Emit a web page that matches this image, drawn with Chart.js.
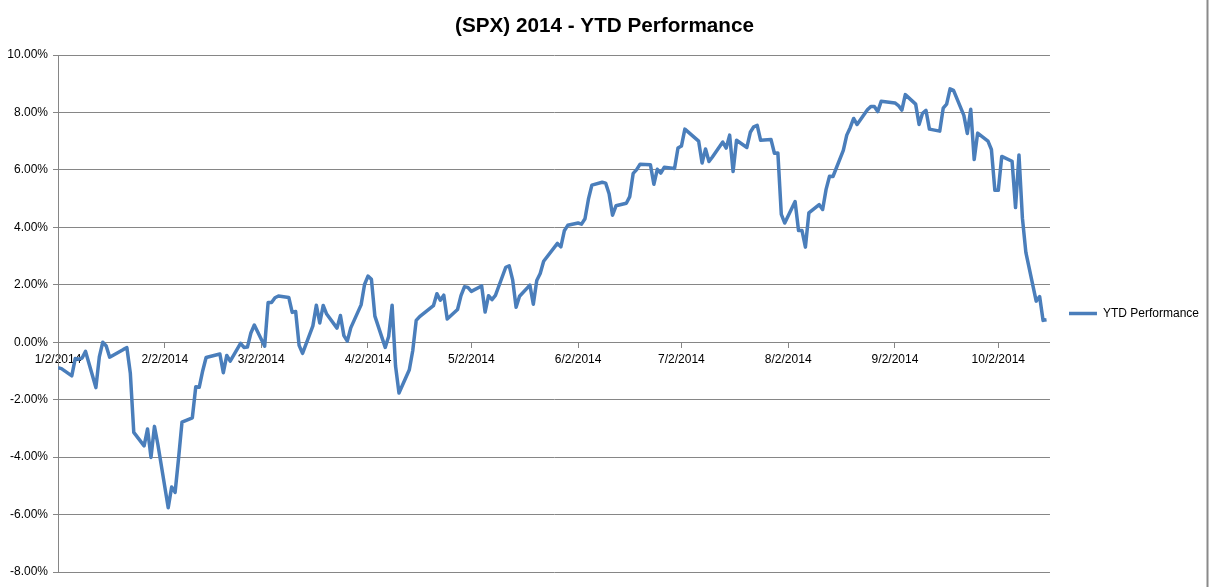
<!DOCTYPE html>
<html>
<head>
<meta charset="utf-8">
<title>(SPX) 2014 - YTD Performance</title>
<script src="https://cdn.jsdelivr.net/npm/chart.js@4.4.1/dist/chart.umd.min.js"></script>
<style>
  html, body { margin: 0; padding: 0; background: #fff; }
  #wrap { position: relative; width: 1210px; height: 587px; }
</style>
</head>
<body>
<div id="wrap"><canvas id="spxChart"></canvas></div>
<script>
// trading days (2014) and YTD % change of the S&P 500
const dates = [
  "1/2", "1/3", "1/6", "1/7", "1/8", "1/9", "1/10", "1/13", "1/14", "1/15", "1/16", "1/17", "1/21", "1/22", "1/23", "1/24", "1/27", "1/28", "1/29", "1/30", "1/31",
  "2/3", "2/4", "2/5", "2/6", "2/7", "2/10", "2/11", "2/12", "2/13", "2/14", "2/18", "2/19", "2/20", "2/21", "2/24", "2/25", "2/26", "2/27", "2/28",
  "3/3", "3/4", "3/5", "3/6", "3/7", "3/10", "3/11", "3/12", "3/13", "3/14", "3/17", "3/18", "3/19", "3/20", "3/21", "3/24", "3/25", "3/26", "3/27", "3/28", "3/31",
  "4/1", "4/2", "4/3", "4/4", "4/7", "4/8", "4/9", "4/10", "4/11", "4/14", "4/15", "4/16", "4/17", "4/21", "4/22", "4/23", "4/24", "4/25", "4/28", "4/29", "4/30",
  "5/1", "5/2", "5/5", "5/6", "5/7", "5/8", "5/9", "5/12", "5/13", "5/14", "5/15", "5/16", "5/19", "5/20", "5/21", "5/22", "5/23", "5/27", "5/28", "5/29", "5/30",
  "6/2", "6/3", "6/4", "6/5", "6/6", "6/9", "6/10", "6/11", "6/12", "6/13", "6/16", "6/17", "6/18", "6/19", "6/20", "6/23", "6/24", "6/25", "6/26", "6/27", "6/30",
  "7/1", "7/2", "7/3", "7/7", "7/8", "7/9", "7/10", "7/11", "7/14", "7/15", "7/16", "7/17", "7/18", "7/21", "7/22", "7/23", "7/24", "7/25", "7/28", "7/29", "7/30", "7/31",
  "8/1", "8/4", "8/5", "8/6", "8/7", "8/8", "8/11", "8/12", "8/13", "8/14", "8/15", "8/18", "8/19", "8/20", "8/21", "8/22", "8/25", "8/26", "8/27", "8/28", "8/29",
  "9/2", "9/3", "9/4", "9/5", "9/8", "9/9", "9/10", "9/11", "9/12", "9/15", "9/16", "9/17", "9/18", "9/19", "9/22", "9/23", "9/24", "9/25", "9/26", "9/29", "9/30",
  "10/1", "10/2", "10/3", "10/6", "10/7", "10/8", "10/9", "10/10", "10/13", "10/14", "10/15", "10/16",
];

const ytd = [
  -0.89, -0.92, -1.17, -0.57, -0.59, -0.55, -0.32, -1.58, -0.51, 0.0, -0.13, -0.52, -0.25, -0.19, -1.08, -3.14, -3.61, -3.02, -4.01, -2.93, -3.56,
  -5.76, -5.04, -5.23, -4.05, -2.78, -2.63, -1.55, -1.57, -1.0, -0.53, -0.41, -1.06, -0.46, -0.66, -0.04, -0.18, -0.17, 0.32, 0.6,
  -0.14, 1.38, 1.38, 1.55, 1.61, 1.56, 1.04, 1.07, -0.11, -0.39, 0.57, 1.29, 0.67, 1.28, 0.98, 0.49, 0.93, 0.23, 0.04, 0.5, 1.3,
  2.01, 2.3, 2.19, 0.91, -0.18, 0.2, 1.29, -0.83, -1.77, -0.96, -0.29, 0.76, 0.89, 1.27, 1.69, 1.46, 1.64, 0.81, 1.14, 1.62, 1.93,
  1.91, 1.77, 1.96, 1.05, 1.62, 1.48, 1.63, 2.61, 2.66, 2.17, 1.22, 1.6, 1.99, 1.32, 2.15, 2.39, 2.82, 3.44, 3.32, 3.88, 4.07,
  4.15, 4.11, 4.3, 4.98, 5.47, 5.57, 5.54, 5.17, 4.42, 4.75, 4.84, 5.07, 5.88, 6.01, 6.2, 6.18, 5.5, 6.02, 5.89, 6.09, 6.05,
  6.76, 6.83, 7.42, 7.0, 6.24, 6.73, 6.29, 6.45, 6.97, 6.76, 7.21, 5.94, 7.03, 6.78, 7.31, 7.5, 7.55, 7.03, 7.06, 6.58, 6.59, 4.45,
  4.15, 4.9, 3.89, 3.89, 3.31, 4.5, 4.79, 4.62, 5.32, 5.78, 5.77, 6.68, 7.21, 7.47, 7.79, 7.58, 8.09, 8.21, 8.21, 8.03, 8.39,
  8.33, 8.24, 8.08, 8.62, 8.29, 7.58, 7.97, 8.07, 7.42, 7.35, 8.15, 8.29, 8.82, 8.77, 7.9, 7.27, 8.11, 6.36, 7.28, 7.0, 6.71,
  5.29, 5.29, 6.47, 6.3, 4.69, 6.52, 4.32, 3.13, 1.43, 1.59, 0.76, 0.78,
];

const tickLabels = ["1/2/2014", "2/2/2014", "3/2/2014", "4/2/2014", "5/2/2014", "6/2/2014", "7/2/2014", "8/2/2014", "9/2/2014", "10/2/2014"];
const axisEnd = "10/17/2014";

// days since 1/2/2014
function dayOf(str) {
  const p = str.split("/");
  const t = Date.UTC(2014, +p[0] - 1, +p[1]);
  return Math.round((t - Date.UTC(2014, 0, 2)) / 86400000);
}

const points = dates.map((d, i) => ({ x: dayOf(d), y: ytd[i] }));

// outer border of the chart object (cut off at the right)
const sideBorder = {
  id: "sideBorder",
  afterDraw(chart) {
    const { ctx, width, height } = chart;
    ctx.save();
    ctx.strokeStyle = "#8a8a8a";
    ctx.lineWidth = 2;
    ctx.beginPath();
    ctx.moveTo(width - 2.5, 0);
    ctx.lineTo(width - 2.5, height);
    ctx.stroke();
    ctx.restore();
  },
};

Chart.defaults.font.family = "'Liberation Sans', Arial, sans-serif";
Chart.defaults.font.size = 12;
Chart.defaults.color = "#000";

new Chart(document.getElementById("spxChart"), {
  type: "line",
  data: {
    datasets: [
      {
        label: "YTD Performance",
        data: points,
        borderColor: "#4a7ebb",
        backgroundColor: "#4a7ebb",
        borderWidth: 3.5,
        borderJoinStyle: "round",
        pointRadius: 0,
        tension: 0,
      },
    ],
  },
  options: {
    responsive: true,
    maintainAspectRatio: false,
    animation: false,
    layout: { padding: { left: 0, right: 1, top: 0, bottom: 15 } },
    scales: {
      x: {
        type: "linear",
        position: { y: 0 },
        min: 0,
        max: dayOf(axisEnd),
        afterBuildTicks(scale) {
          scale.ticks = tickLabels.map(l => ({ value: dayOf(l) }));
        },
        ticks: {
          autoSkip: false,
          maxRotation: 0,
          padding: 5,
          callback: function (value) {
            const hit = tickLabels.find(l => dayOf(l) === value);
            return hit || "";
          },
        },
        grid: { drawOnChartArea: false, tickLength: 5, color: "#868686" },
        border: { color: "#868686", width: 1 },
      },
      y: {
        min: -8,
        max: 10,
        afterFit(scale) {
          scale.width = 58;
        },
        ticks: {
          stepSize: 2,
          padding: 5,
          callback: v => v.toFixed(2) + "%",
        },
        grid: { color: "#868686", tickLength: 5 },
        border: { color: "#868686", width: 1 },
      },
    },
    plugins: {
      title: {
        display: true,
        text: "(SPX) 2014 - YTD Performance",
        color: "#000",
        font: { size: 20.7, weight: "bold" },
        padding: { top: 13.5, bottom: 16.66 },
      },
      legend: {
        position: "right",
        fullSize: false,
        labels: {
          usePointStyle: true,
          pointStyle: "line",
          pointStyleWidth: 28,
          boxWidth: 28,
          padding: 19,
          color: "#000",
        },
      },
      tooltip: { enabled: false },
    },
  },
  plugins: [sideBorder],
});
</script>
</body>
</html>
